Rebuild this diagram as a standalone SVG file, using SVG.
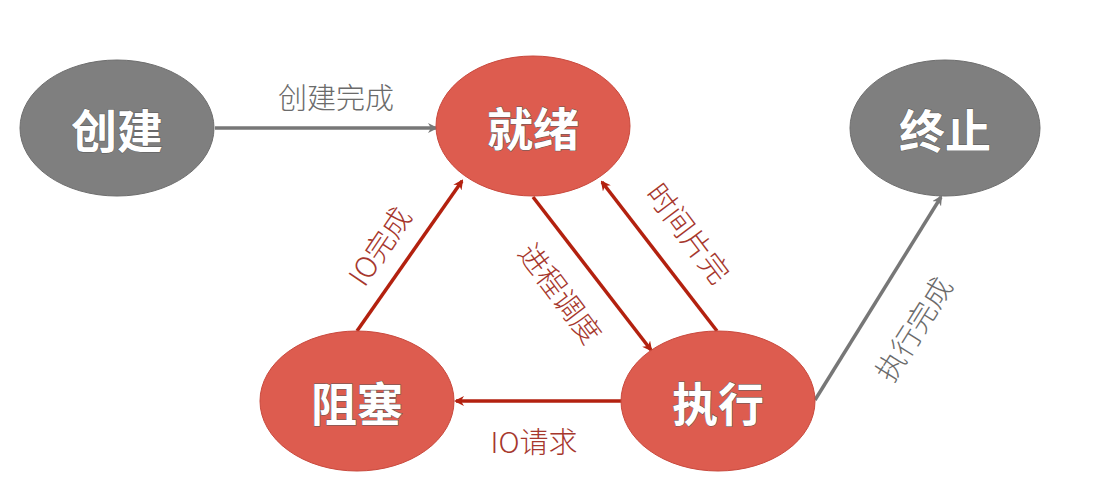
<svg xmlns="http://www.w3.org/2000/svg" width="1099" height="501" viewBox="0 0 1099 501">
<defs>
<marker id="ar" markerWidth="10" markerHeight="10" refX="8" refY="5" orient="auto" markerUnits="userSpaceOnUse"><path d="M0,0 L10,5 L0,10 L3,5 Z" fill="#b3210f"/></marker>
<marker id="ag" markerWidth="10" markerHeight="10" refX="8" refY="5" orient="auto" markerUnits="userSpaceOnUse"><path d="M0,0 L10,5 L0,10 L3,5 Z" fill="#777777"/></marker>
</defs>
<style>
.gray{fill:#7f7f7f;stroke:#6e6e6e;stroke-width:1}
.red{fill:#dd5c4f;stroke:#c9493d;stroke-width:1}
.nt{font-family:"Noto Sans CJK SC","Noto Sans",sans-serif;font-weight:bold;font-size:46px;fill:#ffffff;stroke:#5a5a5a;stroke-width:1;paint-order:stroke;text-anchor:middle;dominant-baseline:central}
.lr{stroke:#b3210f;stroke-width:3.5;fill:none}
.lg{stroke:#777777;stroke-width:3.5;fill:none}
.tr{font-family:"Noto Sans CJK SC","Noto Sans",sans-serif;font-size:29px;font-weight:300;fill:#a6372d;text-anchor:middle;dominant-baseline:central}
.tg{font-family:"Noto Sans CJK SC","Noto Sans",sans-serif;font-size:29px;font-weight:300;fill:#6b6b6b;text-anchor:middle;dominant-baseline:central}
</style>
<rect width="1099" height="501" fill="#ffffff"/>
<g id="connectors">
<line class="lg" x1="215" y1="128" x2="436" y2="128" marker-end="url(#ag)"/>
<line class="lr" x1="357" y1="331" x2="462" y2="181" marker-end="url(#ar)"/>
<line class="lr" x1="533" y1="197" x2="651" y2="350" marker-end="url(#ar)"/>
<line class="lr" x1="717" y1="331" x2="602" y2="182" marker-end="url(#ar)"/>
<line class="lr" x1="622" y1="401" x2="456" y2="401" marker-end="url(#ar)"/>
<line class="lg" x1="815" y1="400" x2="941" y2="197" marker-end="url(#ag)"/>
<text class="tg" x="336" y="96">创建完成</text>
<text class="tr" transform="translate(378,245) rotate(-56)">IO完成</text>
<text class="tr" transform="translate(562,292) rotate(53)">进程调度</text>
<text class="tr" transform="translate(690,232) rotate(53)">时间片完</text>
<text class="tr" x="534" y="440">IO请求</text>
<text class="tg" transform="translate(912,328) rotate(-58)">执行完成</text>
</g>
<g id="node-create"><ellipse class="gray" cx="117" cy="128" rx="97" ry="68"/><text class="nt" x="117" y="128">创建</text></g>
<g id="node-ready"><ellipse class="red" cx="533" cy="126" rx="97" ry="70"/><text class="nt" x="533" y="126">就绪</text></g>
<g id="node-terminate"><ellipse class="gray" cx="945" cy="128" rx="95" ry="68"/><text class="nt" x="945" y="128">终止</text></g>
<g id="node-blocked"><ellipse class="red" cx="357" cy="401" rx="97" ry="70"/><text class="nt" x="357" y="401">阻塞</text></g>
<g id="node-running"><ellipse class="red" cx="718" cy="401" rx="97" ry="70"/><text class="nt" x="718" y="401">执行</text></g>
</svg>
